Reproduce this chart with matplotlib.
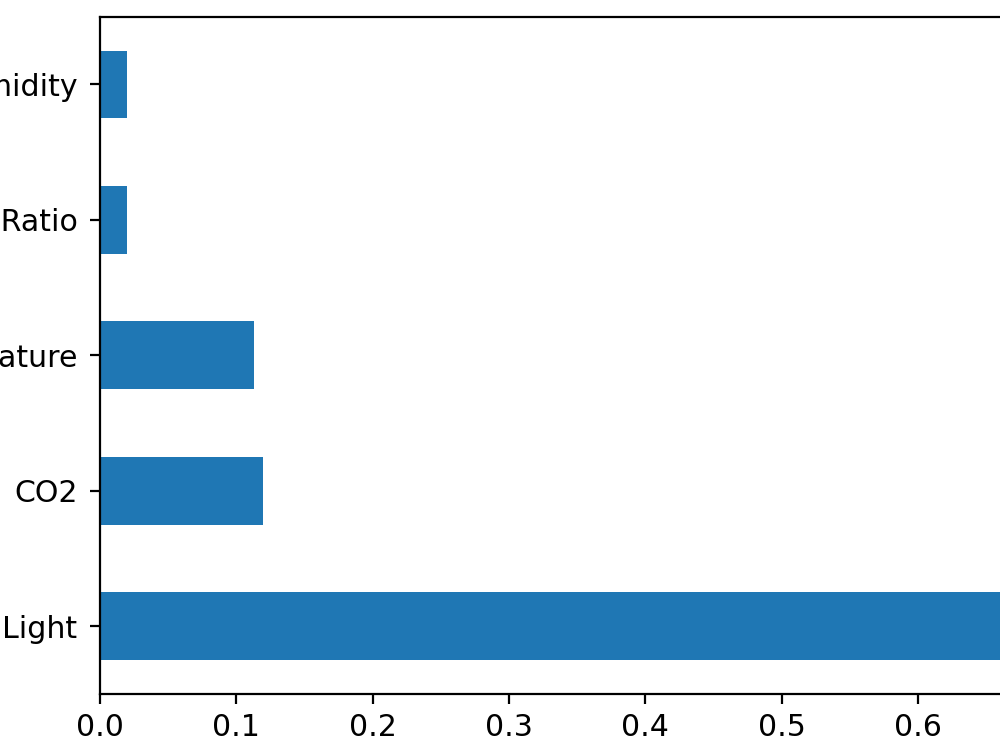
import matplotlib
matplotlib.use("Agg")
import matplotlib.pyplot as plt

features = ["Light", "CO2", "Temperature", "HumidityRatio", "Humidity"]
importances = [0.7274, 0.1198, 0.1132, 0.0198, 0.0198]

plt.rcParams["font.size"] = 10.8

fig = plt.figure(figsize=(5, 3.75), dpi=200)
ax = fig.add_axes([0.1, 0.0747, 1.0413, 0.903])
ax.barh(range(len(features)), importances, height=0.5, color="#1f77b4")
ax.set_yticks(range(len(features)))
ax.set_yticklabels(features)
ax.tick_params(axis="y", pad=4.6)
ax.set_xlim(0, max(importances) * 1.05)
ax.set_ylim(-0.5, len(features) - 0.5)
fig.savefig("out.png", dpi=200)
